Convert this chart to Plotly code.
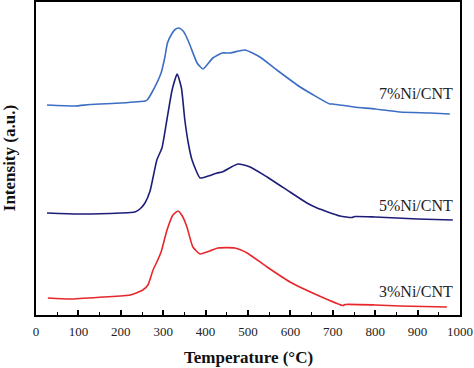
import plotly.graph_objects as go

# Temperature (°C) and intensity (a.u., arbitrary offset scale)
t_7 = [26, 92, 127, 200, 257, 262, 274, 295, 304, 310, 320, 328, 337, 347, 355, 363, 380, 394, 417, 439, 458, 493,
       528, 568, 623, 693, 700, 750, 800, 858, 930, 976]
i_7 = [210, 209, 210.5, 212, 214, 215, 223, 242, 258, 272, 281, 285.5, 287, 284, 278, 270, 252, 246, 257, 262, 262, 265,
       258, 245, 228, 211, 211, 208, 206, 203, 202, 201]

t_5 = [26, 100, 200, 233, 245, 257, 269, 285, 297, 309, 321, 333, 343, 351, 360, 368, 387, 406, 427, 439,
       476, 505, 545, 599, 639, 663, 717, 745, 752, 800, 900, 983]
i_5 = [102, 101, 102, 103, 106, 112, 124, 155, 167, 196, 225, 241, 227, 195, 170, 155, 137, 139, 142, 143,
       151, 148, 138, 123, 112, 107, 99, 97.5, 98.5, 98, 96, 95]

t_3 = [28, 80, 158, 222, 252, 264, 276, 285, 295, 309, 323, 335, 345, 356, 370, 387, 410, 429, 469, 498, 545,
       599, 663, 724, 729, 800, 858, 969]
i_3 = [17, 16, 18, 20, 25, 30, 45, 53, 63, 85, 100, 104, 99, 88, 68, 61, 64, 67, 67, 62, 48,
       33, 20, 9.5, 10.5, 10, 9, 8]

labels = ["7%Ni/CNT", "5%Ni/CNT", "3%Ni/CNT"]
label_y = [222, 110, 24]
colors = ["#3d6ec4", "#1d1d78", "#e8262b"]

x_ticks = list(range(0, 1001, 100))

fig = go.Figure()
for t, i, c, name in zip([t_7, t_5, t_3], [i_7, i_5, i_3], colors, labels):
    fig.add_trace(go.Scatter(x=t, y=i, mode="lines", name=name,
                             line=dict(color=c, width=1.6, shape="spline", smoothing=0.5),
                             showlegend=False, hoverinfo="skip"))

for name, y in zip(labels, label_y):
    fig.add_annotation(x=988, y=y, text=name, showarrow=False, xanchor="right", yanchor="middle",
                       font=dict(family="Liberation Serif", size=16, color="#222"))

# axis titles as annotations (paper coordinates)
fig.add_annotation(x=0.5, xref="paper", y=-0.135, yref="paper", yanchor="middle", showarrow=False,
                   text="<b>Temperature (°C)</b>",
                   font=dict(family="Liberation Serif", size=17, color="#111"))
fig.add_annotation(x=-0.062, xref="paper", y=0.5, yref="paper", xanchor="center", textangle=-90,
                   showarrow=False, text="<b>Intensity (a.u.)</b>",
                   font=dict(family="Liberation Serif", size=17, color="#111"))

fig.update_layout(
    width=474, height=368,
    margin=dict(l=36, r=14, t=2, b=53),
    paper_bgcolor="white", plot_bgcolor="white",
    font=dict(family="Liberation Serif", color="#111"),
)
fig.update_xaxes(
    range=[0, 1000], tickvals=x_ticks, ticktext=[str(v) for v in x_ticks],
    ticks="inside", ticklen=5, tickwidth=1.5, tickcolor="black", ticklabelstandoff=3,
    minor=dict(dtick=50, ticks="inside", ticklen=3, tickwidth=1.2, tickcolor="black"),
    showline=True, linecolor="black", linewidth=2, mirror=True,
    showgrid=False, zeroline=False, automargin=False,
    tickfont=dict(family="Liberation Serif", size=13, color="#222"),
)
fig.update_yaxes(
    range=[0, 313], showticklabels=False, ticks="",
    showline=True, linecolor="black", linewidth=2, mirror=True,
    showgrid=False, zeroline=False, automargin=False,
)

fig.write_html("out.html", config={"displayModeBar": False},
               post_script="document.body.style.margin='0';")
